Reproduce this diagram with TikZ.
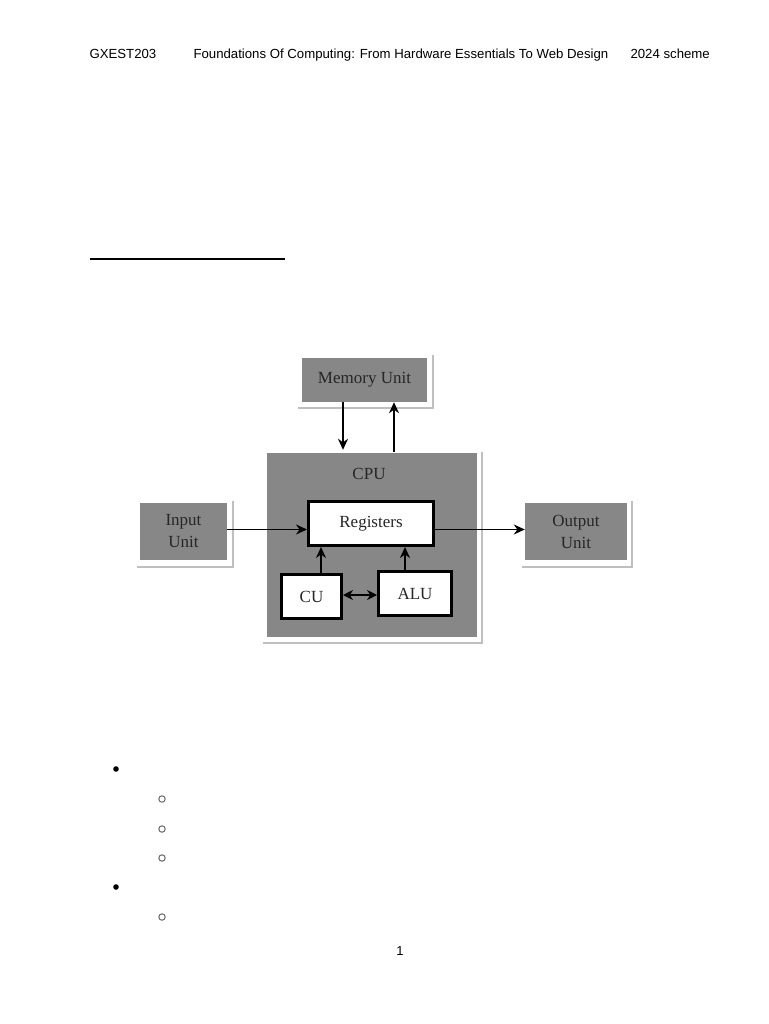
\documentclass[tikz,border=0pt]{standalone}
\usepackage{fontspec}
\setmainfont{Liberation Serif}
\newfontfamily\hdrfont{Liberation Sans}
\usetikzlibrary{arrows.meta}

\begin{document}
\begin{tikzpicture}[x=1pt,y=-1pt,
    unit/.style={fill=black!47,text=black!85,font=\fontsize{17}{22}\selectfont,align=center,inner sep=0pt},
    part/.style={draw=black,line width=3pt,fill=white,text=black!85,font=\fontsize{17}{20}\selectfont,inner sep=0pt},
    shadowline/.style={draw=black!25,line width=2pt},
    arr/.style={-{Stealth[length=11pt,width=10pt]},line width=2pt},
    hdr/.style={anchor=base west,font=\hdrfont\fontsize{13.2}{15}\selectfont}]
  \useasboundingbox (0,0) rectangle (768,1024);

  % page header
  \node[hdr] (code)  at (86,59)  {GXEST203};
  \node[hdr] (title) at (190,59) {Foundations Of Computing: From Hardware Essentials To Web Design};
  \node[hdr] (year)  at (627,59) {2024 scheme};
  \draw[line width=2pt] (90,259) -- (285,259);

  % units
  \node[unit,minimum width=125pt,minimum height=44pt] (mem) at (364.5,380) {Memory Unit};
  \node[unit,minimum width=210pt,minimum height=184pt] (cpu) at (372,545) {};
  \node[text=black!85,font=\fontsize{17}{20}\selectfont] (cpulbl) at (369,474) {CPU};
  \node[unit,minimum width=87pt,minimum height=57pt] (inp) at (183.5,531.5) {Input\\Unit};
  \node[unit,minimum width=102pt,minimum height=57pt] (out) at (576,531.5) {Output\\Unit};

  \draw[shadowline] ([xshift=-4pt,yshift=-6pt]mem.south west) -| ([xshift=6pt,yshift=3pt]mem.north east);
  \draw[shadowline] ([xshift=-4pt,yshift=-6pt]cpu.south west) -| ([xshift=5pt,yshift=1pt]cpu.north east);
  \draw[shadowline] ([xshift=-3pt,yshift=-7pt]inp.south west) -| ([xshift=6pt,yshift=2pt]inp.north east);
  \draw[shadowline] ([xshift=-3pt,yshift=-7pt]out.south west) -| ([xshift=5pt,yshift=2pt]out.north east);

  % inside the cpu
  \node[part,minimum width=125pt,minimum height=44pt] (reg) at (371,523.5) {Registers};
  \node[part,minimum width=60pt,minimum height=44pt] (cu) at (311.5,596.5) {CU};
  \node[part,minimum width=73pt,minimum height=44pt] (alu) at (415,593.5) {ALU};

  % connections
  \draw[arr] ([xshift=-21.5pt]mem.south) -- ([xshift=-21.5pt,yshift=3pt]mem.south |- cpu.north);
  \draw[arr] ([xshift=29.5pt,yshift=1pt]mem.south |- cpu.north) -- ([xshift=29.5pt]mem.south);
  \draw[arr,line width=1.5pt] ([yshift=2pt]inp.east) -- ([yshift=2pt]inp.east -| reg.west);
  \draw[arr,line width=1.5pt] ([yshift=2pt]out.west -| reg.east) -- ([yshift=2pt]out.west);
  \draw[arr] ([xshift=9.5pt]cu.north) -- ([xshift=9.5pt]cu.north |- reg.south);
  \draw[arr] ([xshift=-10pt]alu.north) -- ([xshift=-10pt]alu.north |- reg.south);
  \draw[{Stealth[length=10pt,width=10pt]}-{Stealth[length=10pt,width=10pt]},line width=2.2pt]
    ([yshift=1.5pt]cu.east) -- ([yshift=1.5pt]cu.east -| alu.west);

  % list marks
  \fill (116,769) circle (2.8);
  \fill (116,887) circle (2.8);
  \foreach \y in {799,829,858,917}
    \draw[black!60,line width=1pt] (162,\y) circle (3.2);

  \node[font=\hdrfont\fontsize{13}{15}\selectfont] (pagenum) at (400,951) {1};
\end{tikzpicture}
\end{document}
